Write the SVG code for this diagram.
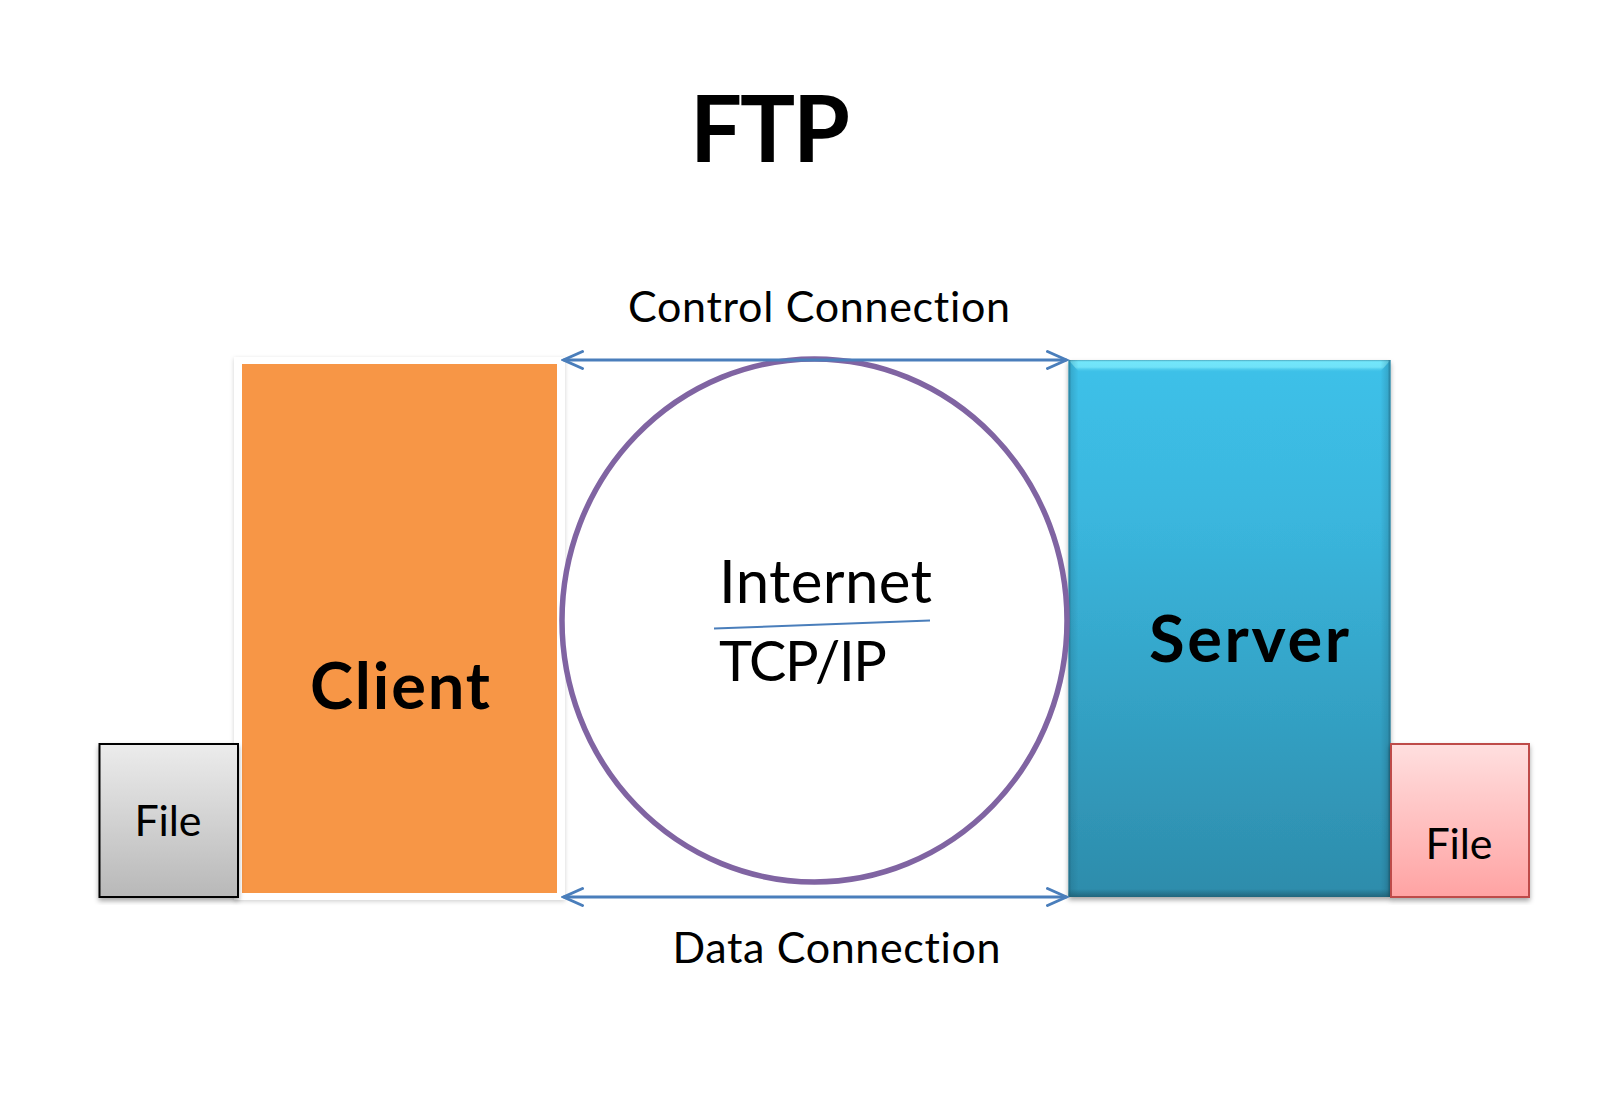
<svg xmlns="http://www.w3.org/2000/svg" width="1600" height="1103" viewBox="0 0 1600 1103">
<style>
text{font-family:"Lato","Open Sans",sans-serif;fill:#000;font-variant-ligatures:none}
.b{font-weight:700}
.conn{fill:none;stroke:#4a7ebb;stroke-width:2.8}
</style>
<defs>
<linearGradient id="gs" x1="0" y1="0" x2="0" y2="1"><stop offset="0" stop-color="#3dc1e9"/><stop offset="0.3" stop-color="#3ab6dd"/><stop offset="1" stop-color="#2d8cab"/></linearGradient>
<linearGradient id="gg" x1="0" y1="0" x2="0" y2="1"><stop offset="0" stop-color="#ececec"/><stop offset="1" stop-color="#b8b8b8"/></linearGradient>
<linearGradient id="gp" x1="0" y1="0" x2="0" y2="1"><stop offset="0" stop-color="#ffdfdf"/><stop offset="1" stop-color="#ffa3a3"/></linearGradient>
<linearGradient id="bl" x1="0" y1="0" x2="1" y2="0"><stop offset="0" stop-color="#1c5a70" stop-opacity=".65"/><stop offset=".3" stop-color="#1c5a70" stop-opacity=".2"/><stop offset="1" stop-color="#1c5a70" stop-opacity="0"/></linearGradient>
<linearGradient id="br" x1="1" y1="0" x2="0" y2="0"><stop offset="0" stop-color="#1c5a70" stop-opacity=".7"/><stop offset=".3" stop-color="#1c5a70" stop-opacity=".22"/><stop offset="1" stop-color="#1c5a70" stop-opacity="0"/></linearGradient>
<linearGradient id="bt" x1="0" y1="0" x2="0" y2="1"><stop offset="0" stop-color="#4fa8bf"/><stop offset=".15" stop-color="#72e6fb"/><stop offset=".6" stop-color="#70e2f8"/><stop offset="1" stop-color="#3dbfe6" stop-opacity=".2"/></linearGradient>
<linearGradient id="bb" x1="0" y1="1" x2="0" y2="0"><stop offset="0" stop-color="#1f5f74" stop-opacity=".85"/><stop offset="1" stop-color="#1f5f74" stop-opacity="0"/></linearGradient>
<filter id="sh" x="-5%" y="-5%" width="110%" height="110%"><feDropShadow dx="0" dy="3" stdDeviation="2.500" flood-color="#000" flood-opacity="0.35"/></filter>
<filter id="sl" x="-5%" y="-5%" width="110%" height="110%"><feDropShadow dx="0" dy="1.500" stdDeviation="2" flood-color="#000" flood-opacity="0.18"/></filter>
<marker id="a" markerWidth="24" markerHeight="24" refX="21" refY="11" orient="auto-start-reverse" markerUnits="userSpaceOnUse"><path d="M2 2.500L21 11L2 19.500" fill="none" stroke="#4a7ebb" stroke-width="3" stroke-linecap="round"/></marker>
</defs>
<rect width="1600" height="1103" fill="#fff"/>
<text id="title" class="b" x="690" y="162" font-size="92" textLength="160">FTP</text>
<g id="client"><rect x="234" y="357" width="331" height="543" fill="#fff" filter="url(#sl)"/><rect x="242" y="364" width="315" height="529" fill="#f79646"/><text class="b" x="310" y="709" font-size="65" textLength="180">Client</text></g>
<g id="server"><rect x="1068.500" y="360" width="322" height="537" fill="url(#gs)" filter="url(#sh)"/>
<path d="M1068.500 360H1390.500L1380 372H1079Z" fill="url(#bt)"/><rect x="1068.500" y="360" width="10" height="537" fill="url(#bl)"/><rect x="1380.500" y="360" width="10" height="537" fill="url(#br)"/><rect x="1068.500" y="889" width="322" height="8" fill="url(#bb)"/>
<text class="b" x="1149" y="662" font-size="65" textLength="200">Server</text></g>
<g id="file-left"><rect x="99.500" y="744" width="138.500" height="153" fill="url(#gg)" stroke="#000" stroke-width="2" filter="url(#sh)"/><text x="134.500" y="836" font-size="43" textLength="67">File</text></g>
<g id="file-right"><rect x="1391" y="744" width="138" height="153" fill="url(#gp)" stroke="#be4b48" stroke-width="2" filter="url(#sh)"/><text x="1425.500" y="859" font-size="43" textLength="67">File</text></g>
<g id="internet"><ellipse cx="814.500" cy="620.500" rx="252.500" ry="261.500" fill="#fff" stroke="#8064a2" stroke-width="5.500"/>
<text x="719" y="603" font-size="60" textLength="213">Internet</text><text x="719" y="681" font-size="56" textLength="168">TCP/IP</text></g>
<g id="connectors"><path class="conn" d="M563.500 360H1066.500" marker-start="url(#a)" marker-end="url(#a)"/><path class="conn" d="M563.500 897H1066.500" marker-start="url(#a)" marker-end="url(#a)"/><path d="M714 628.500L930 620.500" fill="none" stroke="#4a7ebb" stroke-width="2"/></g>
<text id="control-label" x="628" y="322" font-size="43" textLength="382">Control Connection</text>
<text id="data-label" x="672.500" y="963" font-size="43" textLength="328">Data Connection</text>
</svg>
